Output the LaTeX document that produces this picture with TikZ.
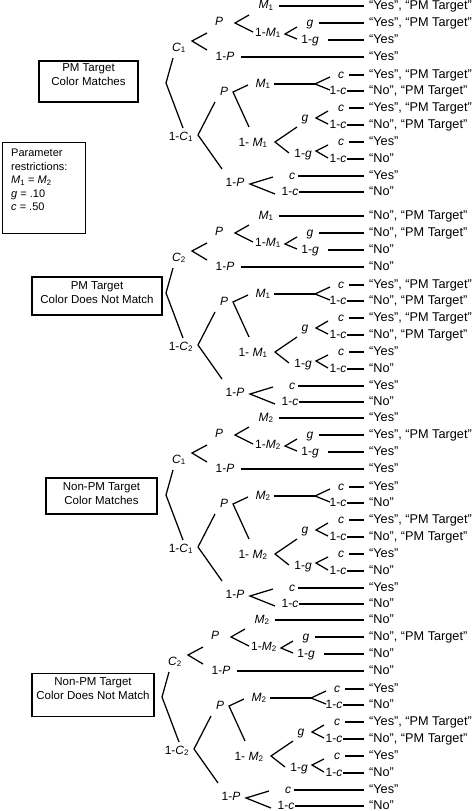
\documentclass[tikz,border=0pt]{standalone}
\usepackage{fontspec}
\setmainfont{Liberation Sans}
\newcommand\iv[1]{\textit{#1}}
\tikzset{
  lab/.style={inner sep=0pt, font=\fontsize{12}{14}\selectfont, text height=8pt, text depth=2pt},
  outc/.style={inner sep=0pt, anchor=west, font=\fontsize{12.7}{14}\selectfont, text height=8.3pt, text depth=2pt},
  br/.style={line width=1.25pt},
  hl/.style={line width=1.25pt},
  boxst/.style={draw, line width=1.3pt, inner sep=0pt},
  boxtxt/.style={inner sep=0pt, align=center, font=\fontsize{11.5}{14}\selectfont},
}
\newcommand\outcomes[3]{%
  \foreach \t [count=\i from 0] in {#3} {
    \pgfmathsetmacro\ry{{0,17,34,51,69,85,102,119,136,153,170,186}[\i]+#1}
    \node[outc] (#2o\i) at (369,\ry) {\t};
  }}
\newcommand\treeblock[5]{%
\begin{scope}[shift={(#2,#1)}]
\node[lab] (#5C) at (179,42) {\iv{C}\textsubscript{#3}};
\node[lab] (#5Pa) at (219,16) {\iv{P}};
\node[lab] (#5Ma) at (266,0) {\iv{M}\textsubscript{#4}};
\node[lab] (#5nMa) at (268,27) {1-\iv{M}\textsubscript{#4}};
\node[lab] (#5ga) at (310,17) {\iv{g}};
\node[lab] (#5nga) at (310,34) {1-\iv{g}};
\node[lab] (#5nPa) at (225,51) {1-\iv{P}};
\node[lab] (#5nC) at (181,131) {1-\iv{C}\textsubscript{#3}};
\node[lab] (#5Pb) at (224,86) {\iv{P}};
\node[lab] (#5Mb) at (263,78) {\iv{M}\textsubscript{#4}};
\node[lab] (#5ca) at (341,69) {\iv{c}};
\node[lab] (#5nca) at (338,85) {1-\iv{c}};
\node[lab] (#5nMb) at (253,137) {1- \iv{M}\textsubscript{#4}};
\node[lab] (#5gb) at (305,112) {\iv{g}};
\node[lab] (#5cb) at (341,102) {\iv{c}};
\node[lab] (#5ncb) at (338,119) {1-\iv{c}};
\node[lab] (#5ngb) at (303,148) {1-\iv{g}};
\node[lab] (#5cc) at (341,136) {\iv{c}};
\node[lab] (#5ncc) at (338,153) {1-\iv{c}};
\node[lab] (#5nPb) at (235,177) {1-\iv{P}};
\node[lab] (#5cd) at (292,170) {\iv{c}};
\node[lab] (#5ncd) at (290,186) {1-\iv{c}};
\coordinate (#5u0) at (173,52);  \coordinate (#5k0) at (166,77);  \coordinate (#5d0) at (183,122);
\coordinate (#5u1) at (207,27);  \coordinate (#5k1) at (192,35);  \coordinate (#5d1) at (207,44);
\coordinate (#5u2) at (249,9);   \coordinate (#5k2) at (235,17);  \coordinate (#5d2) at (253,26);
\coordinate (#5u3) at (297,21);  \coordinate (#5k3) at (285,28);  \coordinate (#5d3) at (297,33);
\coordinate (#5u4) at (215,96);  \coordinate (#5k4) at (198,129); \coordinate (#5d4) at (222,163);
\coordinate (#5u5) at (248,79);  \coordinate (#5k5) at (233,86);  \coordinate (#5d5) at (249,121);
\coordinate (#5u6) at (330,71);  \coordinate (#5k6) at (315,78);  \coordinate (#5d6) at (330,84);
\coordinate (#5u7) at (297,121); \coordinate (#5k7) at (275,136); \coordinate (#5d7) at (289,147);
\coordinate (#5u8) at (328,105); \coordinate (#5k8) at (316,112); \coordinate (#5d8) at (328,118);
\coordinate (#5u9) at (328,139); \coordinate (#5k9) at (316,145); \coordinate (#5d9) at (328,152);
\coordinate (#5u10) at (273,171); \coordinate (#5k10) at (250,178); \coordinate (#5d10) at (275,188);
\foreach \k in {0,...,10} {\draw[br] (#5u\k) -- (#5k\k) -- (#5d\k);}
\draw[hl, shorten <=5pt, shorten >=5pt] (#5Ma.east) -- (#5Ma.east -| #5o0.west);
\draw[hl, shorten <=5pt, shorten >=5pt] (#5ga.east) -- (#5ga.east -| #5o1.west);
\draw[hl, shorten <=9pt, shorten >=5pt] (#5nga.east) -- (#5nga.east -| #5o2.west);
\draw[hl, shorten <=6pt, shorten >=5pt] (#5nPa.east) -- (#5nPa.east -| #5o3.west);
\draw[hl, shorten <=3pt] (#5Mb.east) -- (#5k6);
\draw[hl, shorten <=5pt, shorten >=5pt] (#5ca.east) -- (#5ca.east -| #5o4.west);
\draw[hl, shorten >=5pt] (#5nca.east) -- (#5nca.east -| #5o5.west);
\draw[hl, shorten <=5pt, shorten >=5pt] (#5cb.east) -- (#5cb.east -| #5o6.west);
\draw[hl, shorten >=5pt] (#5ncb.east) -- (#5ncb.east -| #5o7.west);
\draw[hl, shorten <=5pt, shorten >=5pt] (#5cc.east) -- (#5cc.east -| #5o8.west);
\draw[hl, shorten >=5pt] (#5ncc.east) -- (#5ncc.east -| #5o9.west);
\draw[hl, shorten <=3pt, shorten >=5pt] (#5cd.east) -- (#5cd.east -| #5o10.west);
\draw[hl, shorten >=5pt] (#5ncd.east) -- (#5ncd.east -| #5o11.west);
\end{scope}}
\begin{document}
\begin{tikzpicture}[x=1pt, y=-1pt]
\useasboundingbox (0,0) rectangle (474,811);
% boxes
\node[boxst, minimum width=99pt, minimum height=41pt] (box1) at (88.5,81.5) {};
\node[boxtxt] (box1t) at (88.5,75) {PM Target\\Color Matches};
\node[boxst, minimum width=130pt, minimum height=38pt] (box2) at (97,296) {};
\node[boxtxt] (box2t) at (97,292.5) {PM Target\\Color Does Not Match};
\node[boxst, minimum width=111pt, minimum height=36pt] (box3) at (101.5,496) {};
\node[boxtxt] (box3t) at (101.5,493.5) {Non-PM Target\\Color Matches};
\node[boxst, minimum width=122pt, minimum height=43pt] (box4) at (93,695) {};
\node[boxtxt] (box4t) at (93,688.5) {Non-PM Target\\Color Does Not Match};
\node[boxst, anchor=north west, minimum width=83pt, minimum height=91pt] (parbox) at (2,142) {};
\node[anchor=north west, align=left, inner sep=0pt, font=\fontsize{11}{13.5}\selectfont] (partxt) at (11,149)
  {Parameter\\restrictions:\\\iv{M}\textsubscript{1} = \iv{M}\textsubscript{2}\\\iv{g} = .10\\\iv{c} = .50};
% outcomes
\outcomes{6}{A}{{“Yes”, “PM Target”},{“Yes”, “PM Target”},{“Yes”},{“Yes”},{“Yes”, “PM Target”},{“No”, “PM Target”},{“Yes”, “PM Target”},{“No”, “PM Target”},{“Yes”},{“No”},{“Yes”},{“No”}}
\outcomes{216}{B}{{“No”, “PM Target”},{“No”, “PM Target”},{“No”},{“No”},{“Yes”, “PM Target”},{“No”, “PM Target”},{“Yes”, “PM Target”},{“No”, “PM Target”},{“Yes”},{“No”},{“Yes”},{“No”}}
\outcomes{418}{E}{{“Yes”},{“Yes”, “PM Target”},{“Yes”},{“Yes”},{“Yes”},{“No”},{“Yes”, “PM Target”},{“No”, “PM Target”},{“Yes”},{“No”},{“Yes”},{“No”}}
\outcomes{620}{D}{{“No”},{“No”, “PM Target”},{“No”},{“No”},{“Yes”},{“No”},{“Yes”, “PM Target”},{“No”, “PM Target”},{“Yes”},{“No”},{“Yes”},{“No”}}
% trees
\treeblock{6}{0}{1}{1}{A}
\treeblock{216}{0}{2}{1}{B}
\treeblock{418}{0}{1}{2}{E}
\treeblock{620}{-4}{2}{2}{D}
\end{tikzpicture}
\end{document}
